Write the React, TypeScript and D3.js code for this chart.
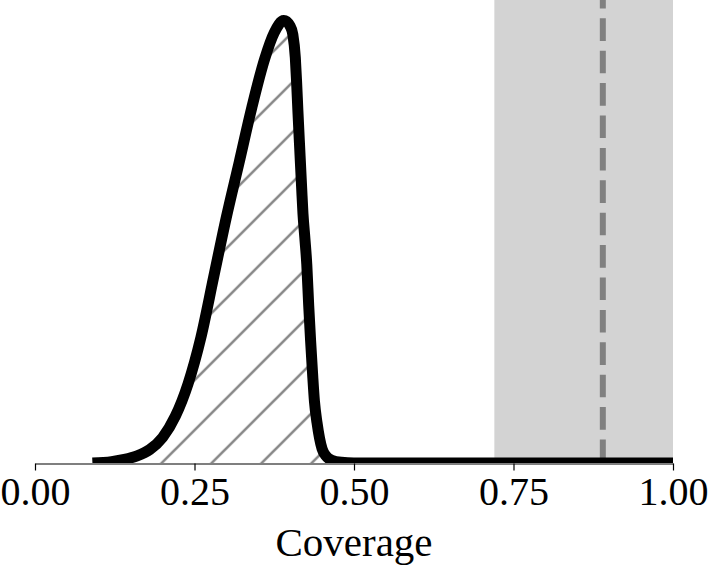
import React, {useEffect, useRef} from 'react';
import * as d3 from 'd3';

// density estimate of coverage
const coverage = [0.09, 0.12, 0.14, 0.16, 0.18, 0.20, 0.22, 0.24, 0.26, 0.28, 0.30, 0.32, 0.34, 0.36, 0.375, 0.39,
    0.40, 0.404, 0.408, 0.41, 0.412, 0.415, 0.418, 0.42, 0.423, 0.426, 0.429, 0.432, 0.435, 0.438, 0.442, 0.446,
    0.45, 0.456, 0.465, 0.48, 0.50, 1.00];
const density = [0, 0.02, 0.05, 0.1, 0.19, 0.36, 0.66, 1.12, 1.77, 2.62, 3.47, 4.24, 5.02, 5.7, 6.07, 6.24,
    6.16, 6.05, 5.72, 5.38, 4.98, 4.42, 3.87, 3.52, 3.17, 2.8, 2.22, 1.72, 1.27, 0.87, 0.57, 0.35,
    0.2, 0.1, 0.04, 0.01, 0, 0];

const tickValues = [0, 0.25, 0.5, 0.75, 1.0];
const targetBand = [0.72, 1.0];
const targetLine = 0.89;
const xLabel = 'Coverage';

const W = 709;
const H = 568;
const FONT = "'Liberation Serif', 'DejaVu Serif', serif";

export default function App() {
    const ref = useRef<SVGSVGElement>(null);

    useEffect(() => {
        const svg = d3.select(ref.current);
        svg.selectAll('*').remove();

        const x = d3.scaleLinear().domain([0, 1]).range([35, 673]);
        const y = d3.scaleLinear().domain([0, 6.53]).range([463, 0]);

        const defs = svg.append('defs');
        defs.append('clipPath').attr('id', 'plotclip')
            .append('rect')
            .attr('x', x(0)).attr('y', -50)
            .attr('width', x(1) - x(0)).attr('height', y(0) + 50);

        const pat = defs.append('pattern')
            .attr('id', 'hatch')
            .attr('patternUnits', 'userSpaceOnUse')
            .attr('x', 24.7).attr('y', 0)
            .attr('width', 50).attr('height', 50);
        pat.append('path')
            .attr('d', 'M-5,5 L5,-5 M0,50 L50,0 M45,55 L55,45')
            .attr('stroke', '#888')
            .attr('stroke-width', 2.6)
            .attr('fill', 'none');

        const plot = svg.append('g').attr('clip-path', 'url(#plotclip)');

        // target range
        plot.append('rect')
            .attr('x', x(targetBand[0]))
            .attr('y', -50)
            .attr('width', x(targetBand[1]) - x(targetBand[0]))
            .attr('height', y(0) + 50)
            .attr('fill', '#d3d3d3');

        plot.append('line')
            .attr('x1', x(targetLine)).attr('x2', x(targetLine))
            .attr('y1', 0).attr('y2', y(0))
            .attr('stroke', '#808080')
            .attr('stroke-width', 6)
            .attr('stroke-dasharray', '22.6,9.8')
            .attr('stroke-dashoffset', 14.1);

        const pts = coverage.map((c, i) => [c, density[i]] as [number, number]);

        const area = d3.area<[number, number]>()
            .x(d => x(d[0]))
            .y0(y(0))
            .y1(d => y(d[1]))
            .curve(d3.curveMonotoneX);

        plot.append('path')
            .datum(pts)
            .attr('d', area)
            .attr('fill', 'url(#hatch)');

        // axis
        const axis = d3.axisBottom(x)
            .tickValues(tickValues)
            .tickFormat(d3.format('.2f'))
            .tickSize(7)
            .tickSizeOuter(0);

        const gx = svg.append('g')
            .attr('transform', `translate(0,${y(0) + 0.5})`)
            .call(axis);
        gx.select('.domain').attr('stroke', '#000').attr('stroke-width', 1.2);
        gx.selectAll('.tick line').attr('stroke', '#000').attr('stroke-width', 1.2);
        gx.selectAll('.tick text')
            .attr('y', 41.5)
            .attr('dy', 0)
            .attr('fill', '#000')
            .style('font-family', FONT)
            .style('font-size', '40px');

        const line = d3.line<[number, number]>()
            .x(d => x(d[0]))
            .y(d => y(d[1]))
            .curve(d3.curveMonotoneX);

        plot.append('path')
            .datum(pts)
            .attr('d', line)
            .attr('fill', 'none')
            .attr('stroke', '#000')
            .attr('stroke-width', 11)
            .attr('stroke-linejoin', 'round')
            .attr('stroke-linecap', 'butt');

        svg.append('text')
            .attr('x', (x(0) + x(1)) / 2)
            .attr('y', 555.5)
            .attr('text-anchor', 'middle')
            .style('font-family', FONT)
            .style('font-size', '41px')
            .text(xLabel);
    }, []);

    return (
        <svg
            ref={ref}
            width={W}
            height={H}
            viewBox={`0 0 ${W} ${H}`}
            style={{position: 'absolute', left: 0, top: 0, background: '#fff'}}
        />
    );
}
